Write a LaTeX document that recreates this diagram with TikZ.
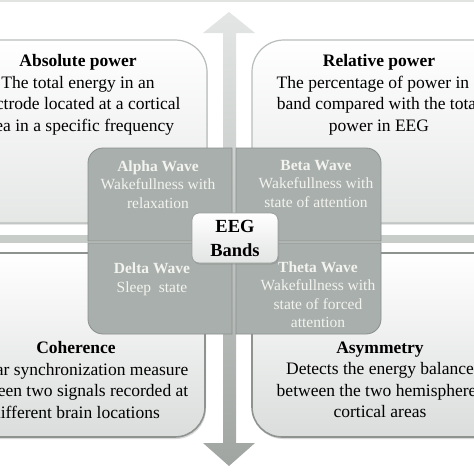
\documentclass[tikz,border=0pt]{standalone}
\usepackage{fontspec}
\setmainfont{Liberation Serif}
\usetikzlibrary{shadows}
\definecolor{stripgray}{HTML}{E2E4E2}
\definecolor{hband}{HTML}{C8CDCA}
\definecolor{arrowtop}{HTML}{E3E6E4}
\definecolor{arrowbot}{HTML}{A0A5A2}
\definecolor{quadtopdraw}{HTML}{B8BDBA}
\definecolor{quadbotdraw}{HTML}{8E9390}
\definecolor{quadfillbot}{HTML}{DADDDB}
\definecolor{bandfill}{HTML}{A9AFAC}
\definecolor{banddraw}{HTML}{8A908D}
\definecolor{bandtext}{HTML}{F3F3EF}
\definecolor{eegdraw}{HTML}{9AA09D}
\definecolor{eegbot}{HTML}{E2E5E3}
\tikzset{
  quadtop/.style={top color=white, bottom color=quadfillbot!70!white, draw=quadtopdraw, line width=1.2pt, rounded corners=32pt,
    drop shadow={shadow xshift=0.5pt, shadow yshift=-1.5pt, opacity=0.3}},
  quadbot/.style={top color=white, bottom color=quadfillbot, draw=quadbotdraw, line width=1.6pt, rounded corners=30pt,
    drop shadow={shadow xshift=1pt, shadow yshift=-2pt, opacity=0.3}},
  bandbox/.style={fill=bandfill, draw=banddraw, line width=0.8pt},
  quadtext/.style={align=center, text=black, font=\fontsize{17.5}{21.5}\selectfont, inner sep=0pt},
  bandtxt/.style={align=center, text=bandtext, font=\fontsize{15.5}{18.5}\selectfont, inner sep=0pt},
  eegbox/.style={top color=white, bottom color=eegbot, draw=eegdraw, line width=0.8pt, rounded corners=7pt,
    minimum width=86pt, minimum height=50pt, align=center, inner sep=0pt,
    font=\bfseries\fontsize{18.5}{24}\selectfont,
    drop shadow={shadow xshift=1pt, shadow yshift=-1.5pt, opacity=0.35}}
}
\begin{document}
\begin{tikzpicture}[x=1pt,y=-1pt]
\useasboundingbox (0,0) rectangle (474,474);
\clip (0,0) rectangle (474,474);
\fill[white] (0,0) rectangle (474,474);
\fill[stripgray] (0,0) rectangle (474,2);
% horizontal arrow shaft
\fill[hband] (0,235) rectangle (474,243);
% vertical double arrow
\shade[top color=arrowtop, bottom color=arrowbot]
  (223,33) -- (203,33) -- (229,12) -- (255,33) -- (236,33) -- (236,443)
  -- (255,443) -- (229,466) -- (203,443) -- (223,443) -- cycle;
% quadrant boxes
\path[quadtop] (-40,40) rectangle (207,223);
\path[quadtop] (252,40) rectangle (514,223);
\path[quadbot] (-40,253) rectangle (205,437);
\path[quadbot] (252,253) rectangle (514,437);
% band boxes
\path[bandbox] (232,148) -- (232,241) -- (88,241) -- (88,163)
  .. controls (88,154.7) and (94.7,148) .. (103,148) -- cycle;
\path[bandbox] (236,148) -- (366,148) .. controls (374.3,148) and (381,154.7) .. (381,163)
  -- (381,241) -- (236,241) -- cycle;
\path[bandbox] (88,243) -- (232,243) -- (232,334) -- (103,334)
  .. controls (94.7,334) and (88,327.3) .. (88,319) -- cycle;
\path[bandbox] (236,243) -- (381,243) -- (381,319)
  .. controls (381,327.3) and (374.3,334) .. (366,334) -- (236,334) -- cycle;
% texts
\node[quadtext] (abs) at (78,95) {\textbf{Absolute power}\\The total energy in an\\electrode located at a cortical\\area in a specific frequency};
\node[quadtext] (rel) at (379,95) {\textbf{Relative power}\\The percentage of power in a\\band compared with the total\\power in EEG};
\node[quadtext] (coh) at (76,380) {\textbf{Coherence}\\Linear synchronization measure\\between two signals recorded at\\different brain locations};
\node[quadtext] (asy) at (380,380) {\textbf{Asymmetry}\\Detects the energy balance\\between the two hemispheres\\cortical areas};
\node[bandtxt] (alpha) at (158,184.5) {\textbf{Alpha Wave}\\Wakefullness with\\relaxation};
\node[bandtxt] (beta) at (316,183.5) {\textbf{Beta Wave}\\Wakefullness with\\state of attention};
\node[bandtxt] (delta) at (152,279.5) {\textbf{Delta Wave}\\Sleep\ \ state};
\node[bandtxt] (theta) at (318,294.5) {\textbf{Theta Wave}\\Wakefullness with\\state of forced\\attention};
\node[eegbox] (eeg) at (235,238) {EEG\\Bands};
\end{tikzpicture}
\end{document}
